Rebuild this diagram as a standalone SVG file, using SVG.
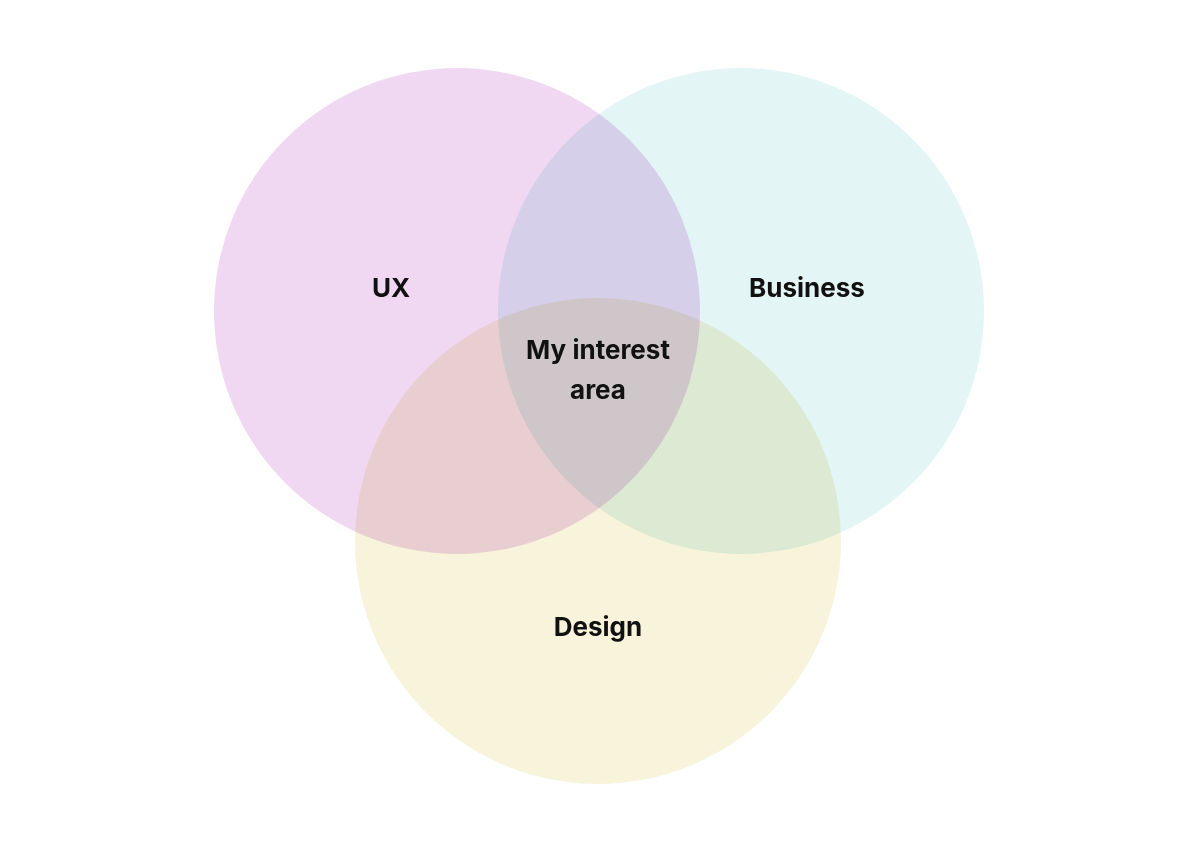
<svg xmlns="http://www.w3.org/2000/svg" width="1200" height="853" viewBox="0 0 1200 853">
<style>
.c{mix-blend-mode:multiply}
text{font-family:Inter,"Liberation Sans",sans-serif;font-weight:700;font-size:26px;fill:#111;text-anchor:middle}
</style>
<rect width="1200" height="853" fill="#fff"/>
<g style="isolation:isolate">
<g id="ux"><circle class="c" cx="457" cy="311" r="243" fill="#f0d8f3"/></g>
<g id="business"><circle class="c" cx="741" cy="311" r="243" fill="#e3f5f5"/></g>
<g id="design"><circle class="c" cx="598" cy="541" r="243" fill="#f8f4dc"/></g>
</g>
<text x="391" y="297">UX</text>
<text x="807" y="297">Business</text>
<text x="598" y="359">My interest</text>
<text x="598" y="399">area</text>
<text x="598" y="636">Design</text>
<g id="connectors"/>
</svg>
